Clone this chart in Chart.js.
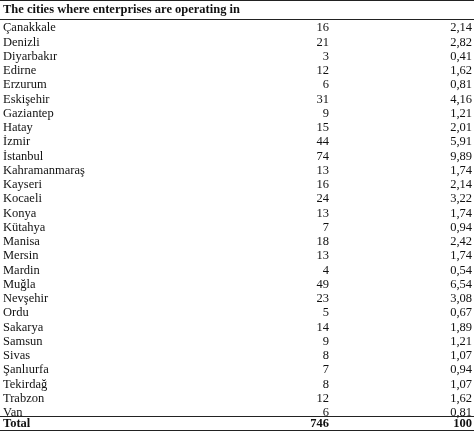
<!DOCTYPE html>
<html><head><meta charset="utf-8">
<script src="https://cdn.jsdelivr.net/npm/chart.js@4/dist/chart.umd.min.js"></script>
<style>html,body{margin:0;padding:0;background:#fff}#w{width:474px;height:431px}</style>
</head><body><div id="w"><canvas id="c"></canvas></div>
<script>
const cities = ["Çanakkale","Denizli","Diyarbakır","Edirne","Erzurum","Eskişehir","Gaziantep","Hatay","İzmir","İstanbul","Kahramanmaraş","Kayseri","Kocaeli","Konya","Kütahya","Manisa","Mersin","Mardin","Muğla","Nevşehir","Ordu","Sakarya","Samsun","Sivas","Şanlıurfa","Tekirdağ","Trabzon","Van"];
const counts = [16,21,3,12,6,31,9,15,44,74,13,16,24,13,7,18,13,4,49,23,5,14,9,8,7,8,12,6];
const percents = ["2,14","2,82","0,41","1,62","0,81","4,16","1,21","2,01","5,91","9,89","1,74","2,14","3,22","1,74","0,94","2,42","1,74","0,54","6,54","3,08","0,67","1,89","1,21","1,07","0,94","1,07","1,62","0,81"];
const title = "The cities where enterprises are operating in";
const totalLabel = "Total", totalCount = "746", totalPercent = "100";
const FONT = "'Liberation Serif', 'DejaVu Serif', serif";
const tablePlugin = {
  id:'table',
  afterDraw(chart){
    const ctx = chart.ctx, y = chart.scales.y, x = chart.scales.x;
    const W = chart.width;
    const L = x.getPixelForValue(0), R = x.getPixelForValue(1);
    const cx = x.getPixelForValue((329 - L) / (R - L)), px = R;
    ctx.save();
    ctx.fillStyle = '#111';
    ctx.font = "12.5px " + FONT;
    ctx.textAlign = 'right'; ctx.textBaseline = 'middle';
    cities.forEach((c,i)=>{
      const py = y.getPixelForValue(i);
      ctx.fillText(String(counts[i]), cx, py);
      ctx.fillText(percents[i], px, py);
    });
    ctx.font = "bold 12.5px " + FONT;
    ctx.textAlign = 'left';
    ctx.fillText(title, 3, 10);
    ctx.fillText(totalLabel, 3, 424);
    ctx.textAlign = 'right';
    ctx.fillText(totalCount, cx, 424);
    ctx.fillText(totalPercent, px, 424);
    ctx.strokeStyle = '#222'; ctx.lineWidth = 1;
    [0.5, 19.5, 416.5, 430.5].forEach(v=>{ctx.beginPath();ctx.moveTo(0,v);ctx.lineTo(W,v);ctx.stroke();});
    ctx.restore();
  }
};
new Chart(document.getElementById('c'), {
  type:'bar',
  data:{labels:cities, datasets:[{data:counts.map(()=>0), backgroundColor:'rgba(0,0,0,0)'}]},
  options:{
    indexAxis:'y', responsive:true, maintainAspectRatio:false, animation:false,
    layout:{padding:{top:21, bottom:11, left:3, right:2}},
    plugins:{legend:{display:false}, tooltip:{enabled:false}},
    scales:{
      x:{display:false, min:0, max:1},
      y:{grid:{display:false}, border:{display:false},
         ticks:{color:'#111', font:{family:FONT, size:12.5}, crossAlign:'far', padding:0, autoSkip:false}}
    }
  },
  plugins:[tablePlugin]
});
</script></body></html>
